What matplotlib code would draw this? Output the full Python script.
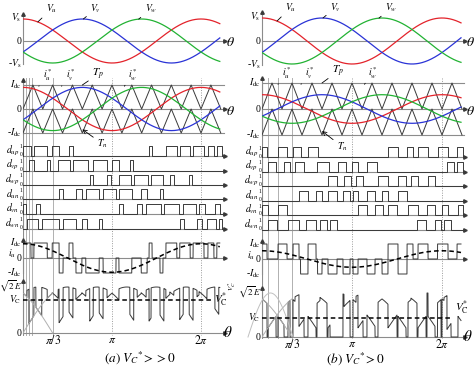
import numpy as np
import matplotlib.pyplot as plt

plt.rcParams['font.family'] = ['Liberation Serif', 'DejaVu Serif']
plt.rcParams['mathtext.fontset'] = 'stix'

W, H = 474, 367

# ---------------- data (angles in degrees) ----------------
phase_uvw = [0, -120, 120]              # V_u, V_v, V_w  (cos form)
colors_uvw = ['#e3232b', '#2a33d6', '#22b233']
iref_amp = {'a': 0.9, 'b': 0.55}        # i* amplitude / I_dc
iu_avg_amp = {'a': 0.95, 'b': 0.55}     # dashed mean of i_u
carrier_period = 40
theta_stop = 398
vc_ref = {'a': 0.72, 'b': 0.43}         # V_C level / sqrt(2)E
marker_lines = {'a': [6, 12, 18, 60], 'b': [12, 32, 60]}
dotted_lines = [180, 360]
arc_b = (-28, 62, 1.0)                  # grey line-voltage arc in (b): start, end, peak

dup_a = [(0, 16), (22, 49), (59, 73), (93, 101), (255, 261), (289, 311), (317, 338), (344, 366), (374, 386), (392, 402)]
dvp_a = [(12, 22), (49, 55), (71, 95), (101, 131), (142, 170), (180, 194), (216, 222)]
dwp_a = [(135, 142), (170, 178), (194, 218), (224, 253), (259, 283), (297, 305), (336, 342)]
dun_a = [(73, 81), (107, 119), (127, 154), (162, 188), (194, 220), (239, 251), (277, 283)]
dvn_a = [(0, 6), (26, 34), (194, 202), (231, 241), (249, 279), (285, 316), (324, 350), (356, 368), (388, 398)]
dwn_a = [(8, 30), (38, 73), (81, 107), (119, 129), (154, 160), (317, 326), (352, 362), (372, 390), (396, 402)]

dup_b = [(0, 10), (32, 50), (62, 77), (92, 111), (252, 272), (290, 302), (312, 332), (351, 372), (390, 402)]
dvp_b = [(12, 28), (44, 56), (66, 84), (110, 134), (152, 168), (180, 192), (210, 230), (370, 384), (390, 402)]
dwp_b = [(132, 150), (164, 178), (188, 202), (232, 252), (272, 288), (298, 312), (332, 346)]
dun_b = [(74, 92), (108, 120), (132, 150), (162, 176), (182, 192), (210, 226), (240, 252), (272, 290)]
dvn_b = [(0, 12), (32, 50), (192, 210), (226, 242), (252, 270), (292, 312), (330, 346), (360, 372), (392, 402)]
dwn_b = [(12, 30), (52, 74), (88, 108), (116, 130), (136, 150), (310, 328), (346, 358), (364, 378)]

d_names = ['up', 'vp', 'wp', 'un', 'vn', 'wn']
pulses = {'a': [dup_a, dvp_a, dwp_a, dun_a, dvn_a, dwn_a],
          'b': [dup_b, dvp_b, dwp_b, dun_b, dvn_b, dwn_b]}

# ---------------- layout (pixels of the 474x367 picture) ----------------
panel = {
    'a': dict(x0=23, x1=226, dpp=180 / 89.0,
              sine=(41, 22), cur=(109, 24), iu=(258, 15), vc=(333, 46),
              d_base=[156, 170.5, 185, 199.5, 214, 228.5],
              bottom=336, cap=r'$(a)\ V_C{}^{*}\!>>0$', capx=140, capy=358,
              vcs=(386, 0.72), hold=True),
    'b': dict(x0=262, x1=466, dpp=2.0,
              sine=(41, 23), cur=(109, 26), iu=(259, 15), vc=(337, 44),
              d_base=[157, 171.5, 186, 200.5, 215, 229.5],
              bottom=339, cap=r'$(b)\ V_C{}^{*}\!>0$', capx=355, capy=359,
              vcs=(386, 0.66), hold=False),
}

fig = plt.figure(figsize=(W / 100, H / 100), dpi=100)
GRAY = '#8c8c8c'
DARK = '#3a3a3a'
th = np.arange(0, theta_stop + 0.05, 0.1)


def row_ax(p, zero, unit, top, bot):
    ax = fig.add_axes([p['x0'] / W, 1 - bot / H, (p['x1'] - p['x0']) / W, (bot - top) / H])
    ax.set_xlim(0, (p['x1'] - p['x0']) * p['dpp'])
    ax.set_ylim((zero - bot) / unit, (zero - top) / unit)
    ax.axis('off')
    return ax


def on(t, ivs):
    m = np.zeros_like(t, dtype=bool)
    for s, e in ivs:
        m |= (t >= s) & (t < e)
    return m


def conducting(t, ivs3, hold):
    # index of the conducting switch of one bridge half (latest turned on wins),
    # -1 when none conducts and the state is not held
    masks = [on(t, iv) for iv in ivs3]
    out = np.zeros(len(t), int)
    now0 = [m[0] for m in masks]
    cur = now0.index(True) if any(now0) else 0
    prev = [False] * 3
    for n in range(len(t)):
        now = [m[n] for m in masks]
        new = [k for k in range(3) if now[k] and not prev[k]]
        if new:
            cur = new[0]
        elif not now[cur] and any(now):
            cur = now.index(True)
        out[n] = cur if (hold or any(now)) else -1
        prev = now
    return out


def step_xy(ivs):
    xs, ys = [0], [0]
    for s, e in ivs:
        xs += [s, s, e, e]
        ys += [0, 1, 1, 0]
    xs.append(theta_stop + 4)
    ys.append(0)
    return xs, ys


def haxis(ax, y=0, arrow=True):
    xe = ax.get_xlim()[1] - 2
    ax.plot([0, xe], [y, y], color=GRAY, lw=0.8, clip_on=False)
    if arrow:
        ax.plot([xe], [y], marker='>', ms=2.5, color=DARK, clip_on=False)


def vaxis(ax, lo, hi):
    ax.plot([0, 0], [lo, hi], color=GRAY, lw=0.8, clip_on=False)
    ax.plot([0], [hi], marker='^', ms=2.5, color=DARK, clip_on=False)


def label(ax, x, y, s, size=7, ha='right', **kw):
    ax.text(x, y, s, fontsize=size, ha=ha, va='center', clip_on=False, **kw)


for key, p in panel.items():
    xmax = (p['x1'] - p['x0']) * p['dpp']
    V = [np.cos(np.radians(th + ph)) for ph in phase_uvw]

    # overlay for vertical reference lines
    ov = fig.add_axes([p['x0'] / W, 1 - p['bottom'] / H, (p['x1'] - p['x0']) / W, (p['bottom'] - 78) / H])
    ov.set_xlim(0, xmax)
    ov.set_ylim(0, 1)
    ov.axis('off')
    for t in marker_lines[key]:
        ov.axvline(t, color='#b0b0b0', lw=0.7)
    for t in dotted_lines:
        ov.axvline(t, color='#9a9a9a', lw=0.7, ls=(0, (1, 1.5)))
    ov.axvline(0, color=GRAY, lw=0.8)

    # ---- row 1: source voltages ----
    z, u = p['sine']
    ax = row_ax(p, z, u, 4, 70)
    haxis(ax)
    vaxis(ax, -1.05, 1.25)
    for v, c in zip(V, colors_uvw):
        ax.plot(th, v, color=c, lw=0.9)
    label(ax, -3, 1.05, r'$V_{\rm s}$')
    label(ax, -3, 0, '0')
    label(ax, -3, -1.05, r'-$V_{\rm s}$')
    label(ax, xmax + 1, -0.05, r'$\theta$', size=10, ha='left')
    for i, (name, tx, cx) in enumerate(zip(['u', 'v', 'w'], [46, 136, 246], [30, 122, 234])):
        cy = np.cos(np.radians(cx + phase_uvw[i]))
        ax.annotate(r'$V_{%s}$' % name, xy=(cx, cy), xytext=(tx, 1.45), fontsize=7,
                    ha='left', va='center', annotation_clip=False,
                    arrowprops=dict(arrowstyle='-', lw=0.6, color='k', shrinkA=1, shrinkB=0))

    # ---- row 2: current references and carriers ----
    z, u = p['cur']
    ax = row_ax(p, z, u, 70, 137)
    vaxis(ax, -1.05, 1.2)
    for y in (1, -1):
        ax.plot([0, xmax - 4], [y, y], color=GRAY, lw=0.8)
    haxis(ax)
    tk = np.arange(0, theta_stop + carrier_period / 2, carrier_period / 2)
    tri = (np.arange(len(tk)) % 2).astype(float)
    ax.plot(tk, tri, color=DARK, lw=0.7)
    ax.plot(tk, tri - 1, color=DARK, lw=0.7)
    for v, c in zip(V, colors_uvw):
        ax.plot(th, iref_amp[key] * v, color=c, lw=0.9)
    label(ax, -3, 1.0, r'$I_{\rm dc}$')
    label(ax, -3, 0, '0')
    label(ax, -3, -1.0, r'-$I_{\rm dc}$')
    label(ax, xmax + 1, -0.1, r'$\theta$', size=10, ha='left')
    for s, xt, xc in zip([r'$i^*_u$', r'$i^*_v$', r'$i^*_w$'], [40, 86, 212], [32, 78, 205]):
        ax.annotate(s, xy=(xc, 0.95), xytext=(xt, 1.4), fontsize=7, ha='left', va='center',
                    annotation_clip=False,
                    arrowprops=dict(arrowstyle='-', lw=0.6, color='k', shrinkA=1, shrinkB=0))
    ax.annotate(r'$T_p$', xy=(120, 1.0), xytext=(140, 1.45), fontsize=8, ha='left', va='center',
                annotation_clip=False,
                arrowprops=dict(arrowstyle='-', lw=0.6, color='k', shrinkA=1, shrinkB=0))
    ax.annotate(r'$T_n$', xy=(120, -0.85), xytext=(150, -1.45), fontsize=7, ha='left', va='center',
                annotation_clip=False,
                arrowprops=dict(arrowstyle='->', lw=0.6, color='k', shrinkA=1, shrinkB=0))

    # ---- gate signals ----
    for nm, base, ivs in zip(d_names, p['d_base'], pulses[key]):
        ax = row_ax(p, base, 10, base - 13, base + 2)
        xs, ys = step_xy(ivs)
        haxis(ax)
        ax.plot(xs, ys, color=DARK, lw=0.7)
        label(ax, -7, 0.55, r'$d_{%s}$' % nm, size=7)
        label(ax, -1.5, 0.9, '1', size=4)
        label(ax, -1.5, 0.1, '0', size=4)

    # ---- i_u ----
    z, u = p['iu']
    ax = row_ax(p, z, u, z - 22, z + 17)
    haxis(ax)
    vaxis(ax, -1.0, 1.2)
    iu = on(th, pulses[key][0]).astype(float) - on(th, pulses[key][3])
    ax.plot(th, iu, color=DARK, lw=0.7)
    ax.plot(th, iu_avg_amp[key] * np.cos(np.radians(th)), color='k', lw=1.1, ls=(0, (3, 2)))
    label(ax, -3, 1.0, r'$I_{\rm dc}$')
    label(ax, -14, 0.25, r'$i_u$')
    label(ax, -3, -0.05, '0')
    label(ax, -3, -1.0, r'-$I_{\rm dc}$')

    # ---- dc voltage ----
    z, u = p['vc']
    ax = row_ax(p, z, u, z - 56, p['bottom'])
    haxis(ax)
    vaxis(ax, 0, 1.12)
    kp = conducting(th, pulses[key][:3], p['hold'])
    kn = conducting(th, pulses[key][3:], p['hold'])
    Vm = np.array(V)
    idx = np.arange(len(th))
    vdc = (Vm[kp, idx] - Vm[kn, idx]) / np.sqrt(3)
    vdc[(kp < 0) | (kn < 0)] = 0
    ax.plot(th, vdc, color=DARK, lw=0.7)
    t60 = np.linspace(0, 60, 60)
    ax.plot(t60, np.sin(np.radians(t60)), color='#b0b0b0', lw=0.7)
    ax.plot(t60, np.cos(np.radians(t60 + 30)), color='#b0b0b0', lw=0.7)
    if key == 'b':
        ta = np.linspace(arc_b[0], arc_b[1], 80)
        ax.plot(ta, arc_b[2] * np.sin(np.pi * (ta - arc_b[0]) / (arc_b[1] - arc_b[0])),
                color='#c0c0c0', lw=0.7, clip_on=False)
        ax.text(-60, 1.15, r'$V_C^*$', fontsize=5, rotation=90, ha='center', va='center', clip_on=False)
    ax.plot([0, 380], [vc_ref[key]] * 2, color='k', lw=1.1, ls=(0, (3, 2)))
    label(ax, -2, 1.02, r'$\sqrt{2}E$', size=6.5)
    label(ax, -3, vc_ref[key], r'$V_{\rm C}$')
    label(ax, -3, 0, '0')
    label(ax, p['vcs'][0], p['vcs'][1], r'$V_{\rm C}^{*}$', ha='left', size=8)
    label(ax, xmax - 6, 0.02, r'$\theta$', size=11, ha='left')
    for t, s in zip([60, 180, 360], [r'$\pi/3$', r'$\pi$', r'$2\pi$']):
        ax.text(t, -1.0 / u, s, fontsize=8.5, ha='center', va='top', clip_on=False)
    fig.text(p['capx'] / W, 1 - p['capy'] / H, p['cap'], fontsize=9.5, ha='center', va='center')

fig.savefig('out.png', dpi=100)
